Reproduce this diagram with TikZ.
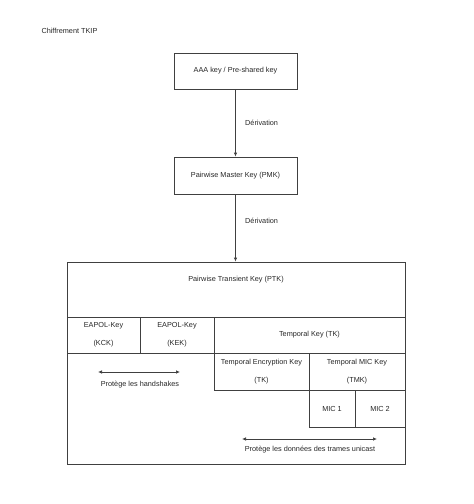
\documentclass[tikz,border=0pt]{standalone}
\usepackage{fontspec}
\setmainfont{Liberation Sans}
\usetikzlibrary{arrows.meta}

\begin{document}
\begin{tikzpicture}[x=1pt,y=-1pt,
    every node/.style={font=\fontsize{7.3}{18}\selectfont, text=black!85},
    keybox/.style={draw=black!75, line width=0.7pt, inner sep=0pt, align=center},
    deriv/.style={draw=black!75, line width=0.7pt, -{Latex[length=4pt,width=3.5pt]}},
    protect/.style={draw=black!75, line width=0.7pt, {Latex[length=4pt,width=3.5pt]}-{Latex[length=4pt,width=3.5pt]}}]
    \useasboundingbox (0,0) rectangle (474,504);

    \node[anchor=west] (titre) at (38,31) {Chiffrement TKIP};

    \node[keybox, minimum width=123pt, minimum height=36pt] (aaa) at (235.5,71) {AAA key / Pre-shared key};
    \node[keybox, minimum width=123pt, minimum height=37pt] (pmk) at (235.5,175.5) {Pairwise Master Key (PMK)};
    \node[keybox, minimum width=338pt, minimum height=202pt] (ptk) at (236,363) {};
    \node (ptktitre) at (236,280) {Pairwise Transient Key (PTK)};

    \draw[deriv] (aaa) -- node[pos=0.5, anchor=west, xshift=6pt]{Dérivation} (pmk);
    \draw[deriv] (pmk) -- node[pos=0.4, anchor=west, xshift=6pt]{Dérivation} (ptk.north -| pmk);

    \node[keybox, minimum width=73pt, minimum height=36pt] (kck) at (103.5,335) {EAPOL-Key\\(KCK)};
    \node[keybox, minimum width=74pt, minimum height=36pt] (kek) at (177,335) {EAPOL-Key\\(KEK)};
    \node[keybox, minimum width=191pt, minimum height=36pt] (tk) at (309.5,335) {Temporal Key (TK)};
    \node[keybox, minimum width=95pt, minimum height=37pt] (tek) at (261.5,371.5) {Temporal Encryption Key\\(TK)};
    \node[keybox, minimum width=96pt, minimum height=37pt] (tmk) at (357,371.5) {Temporal MIC Key\\(TMK)};
    \node[keybox, minimum width=46pt, minimum height=37pt] (mic1) at (332,408.5) {MIC 1};
    \node[keybox, minimum width=50pt, minimum height=37pt] (mic2) at (380,408.5) {MIC 2};

    \coordinate (hsg) at (98,372);
    \coordinate (hsd) at (180,372);
    \draw[protect] (hsg) -- (hsd);
    \node (hslabel) at (140,385) {Protège les handshakes};

    \coordinate (ucg) at (242,439);
    \coordinate (ucd) at (377,439);
    \draw[protect] (ucg) -- (ucd);
    \node (uclabel) at (310,450) {Protège les données des trames unicast};
\end{tikzpicture}
\end{document}
